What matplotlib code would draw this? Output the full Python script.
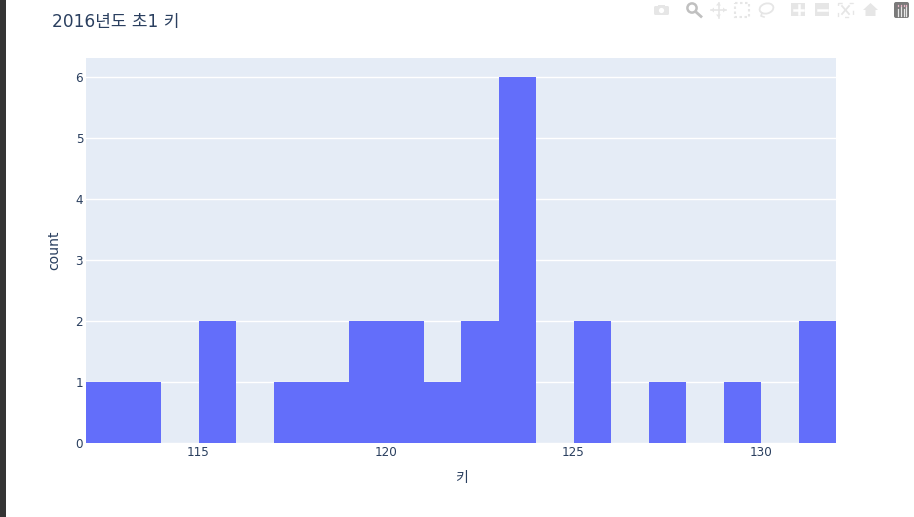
import matplotlib

matplotlib.use('Agg')
import matplotlib.pyplot as plt
from matplotlib.patches import Rectangle, Circle, Ellipse, Polygon, FancyBboxPatch

plt.rcParams['font.family'] = ['DejaVu Sans', 'Noto Sans CJK KR']

# histogram data, one bar per 1 cm bin
bin_edges = list(range(112, 133))
counts = [1, 1, 0, 2, 0, 1, 1, 2, 2, 1, 2, 6, 0, 2, 0, 1, 0, 1, 0, 2]
x_ticks = [115, 120, 125, 130]
y_ticks = [0, 1, 2, 3, 4, 5, 6]

title = '2016년도 초1 키'
x_label = '키'
y_label = 'count'

W, H = 914, 517
TEXT = '#2a3f5f'
BAR = '#636efa'
PLOT_BG = '#e5ecf6'
ICON = '#e6e6e6'

fig = plt.figure(figsize=(W / 100, H / 100), dpi=100, facecolor='white')

# pixel overlay for browser chrome + modebar
over = fig.add_axes([0, 0, 1, 1], zorder=5)
over.set_xlim(0, W)
over.set_ylim(H, 0)
over.axis('off')

ax = fig.add_axes([86 / W, 1 - 443 / H, 750 / W, 385 / H], facecolor=PLOT_BG)
ax.bar(bin_edges[:-1], counts, width=1, align='edge', color=BAR, linewidth=0, zorder=3)
ax.set_xlim(112, 132)
ax.set_ylim(0, 6.31)
ax.set_xticks(x_ticks)
ax.set_yticks(y_ticks)
ax.grid(axis='y', color='white', linewidth=1, zorder=1)
ax.tick_params(axis='x', length=0, labelsize=8.64, labelcolor=TEXT, pad=2)
ax.tick_params(axis='y', length=0, labelsize=8.64, labelcolor=TEXT, pad=2)
for s in ax.spines.values():
    s.set_visible(False)

fig.text(52 / W, 1 - 22 / H, title, fontsize=12.24, color=TEXT, va='center', ha='left')
fig.text(461 / W, 1 - 478 / H, x_label, fontsize=10.08, color=TEXT, va='center', ha='center')
fig.text(54 / W, 1 - 250 / H, y_label, fontsize=10.08, color=TEXT, va='center', ha='center', rotation=90)

# dark window edge on the left
over.add_patch(Rectangle((0, 0), 6, H, color='#343434', linewidth=0))

# modebar icons
over.add_patch(FancyBboxPatch((654, 6), 15, 9, boxstyle='round,pad=0,rounding_size=1.5', color=ICON, linewidth=0))
over.add_patch(Rectangle((658, 4.5), 7, 2, color=ICON, linewidth=0))
over.add_patch(Circle((661.5, 10.5), 2.6, color='white', linewidth=0))

over.add_patch(Circle((692, 8), 4.6, fill=False, edgecolor='#c0c0c0', linewidth=1.8))
over.plot([696, 701], [12, 16.5], color='#c0c0c0', linewidth=2)

over.plot([711, 726], [10, 10], color=ICON, linewidth=1.2)
over.plot([718.5, 718.5], [2.5, 17.5], color=ICON, linewidth=1.2)
for pts in ([(711, 10), (714, 7.5), (714, 12.5)], [(726, 10), (723, 7.5), (723, 12.5)],
            [(718.5, 2.5), (716, 5.5), (721, 5.5)], [(718.5, 17.5), (716, 14.5), (721, 14.5)]):
    over.add_patch(Polygon(pts, color=ICON, linewidth=0))

over.add_patch(Rectangle((735, 3), 14, 14, fill=False, edgecolor=ICON, linewidth=1.5, linestyle=(0, (1.2, 1.2))))

over.add_patch(Ellipse((766.5, 8.5), 14, 10, angle=-15, fill=False, edgecolor=ICON, linewidth=1.3))
over.plot([762, 761, 764], [13, 16, 17], color=ICON, linewidth=1.2)

for x0 in (791, 815):
    over.add_patch(Rectangle((x0, 3), 14, 13, color=ICON, linewidth=0))
over.plot([794, 803], [9.5, 9.5], color='white', linewidth=1.8)
over.plot([798.5, 798.5], [5, 14], color='white', linewidth=1.8)
over.plot([818, 827], [9.5, 9.5], color='white', linewidth=1.8)

over.add_patch(Rectangle((838, 3), 15, 14, fill=False, edgecolor=ICON, linewidth=1.0, linestyle=(0, (3, 5))))
over.plot([842, 849], [6, 14], color=ICON, linewidth=1.3)
over.plot([849, 842], [6, 14], color=ICON, linewidth=1.3)

over.add_patch(Polygon([(863, 10), (870.5, 3), (878, 10), (875.5, 10), (875.5, 16), (865.5, 16), (865.5, 10)], color=ICON, linewidth=0))

over.add_patch(FancyBboxPatch((894, 2), 15, 16, boxstyle='round,pad=0,rounding_size=2', color='#7a7a7a', linewidth=0))
for bx, top in zip((897.5, 900.5, 903.5, 906), (9, 7, 9, 7)):
    over.plot([bx, bx], [top, 16], color='#e8e8e8', linewidth=0.9)
    over.plot([bx, bx], [5, 6], color='#e8b8c8', linewidth=0.9)

fig.savefig('out.png', dpi=100)
plt.close(fig)
